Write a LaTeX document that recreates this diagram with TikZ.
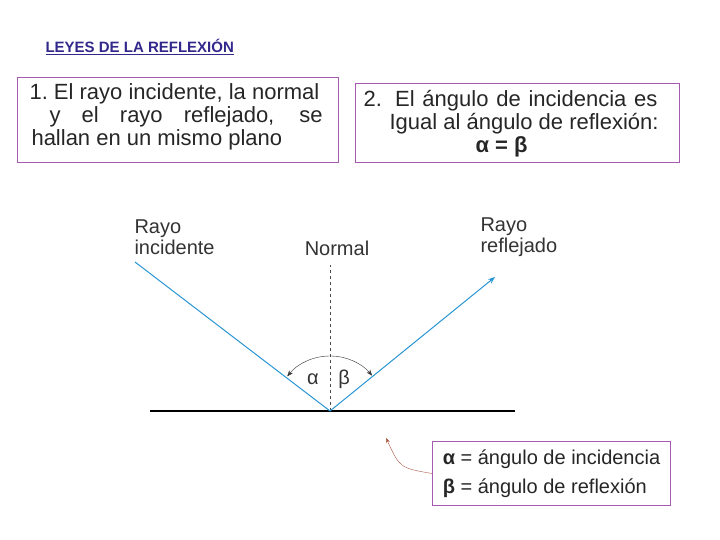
\documentclass[tikz,border=0pt]{standalone}
\usepackage{fontspec}
\setmainfont{Liberation Sans}
\usetikzlibrary{arrows.meta}
\definecolor{boxc}{RGB}{165,90,175}
\definecolor{titc}{RGB}{50,40,140}
\definecolor{rayc}{RGB}{40,150,210}
\definecolor{arrc}{RGB}{170,90,70}
\tikzset{lbox/.style={draw=boxc,line width=1pt,inner sep=5pt,text=black!85},
 btxt/.style={font=\fontsize{22}{23}\selectfont,text=black!85,align=left,anchor=north west},
 ray/.style={draw=rayc,line width=1pt},
 lab/.style={font=\fontsize{20}{21}\selectfont,text=black!80,align=left}}
\begin{document}
\begin{tikzpicture}[x=1pt,y=1pt]
\useasboundingbox (0,0) rectangle (720,540);
\node[anchor=west,text=titc,font=\fontsize{15}{16}\selectfont\bfseries] (title) at (42,493) {\underline{LEYES DE LA REFLEXIÓN}};
\node[lbox,draw=none,minimum width=320pt,minimum height=84pt,anchor=north west] (b1f) at (17,462) {};
\draw[boxc,line width=1pt] (b1f.north west) rectangle (b1f.south east);
\node[btxt] (b1) at (26,460)
 {1.\ El rayo incidente, la normal\\
 \hspace*{20pt}\makebox[273pt][s]{y el rayo reflejado, se}\\
 \hspace*{2pt}hallan en un mismo plano};
\node[lbox,draw=none,minimum width=323pt,minimum height=78pt,anchor=north west] (b2f) at (355,456) {};
\draw[boxc,line width=1pt] (b2f.north west) rectangle (b2f.south east);
\node[btxt] (b2) at (360,453)
 {\makebox[294pt][s]{2. El ángulo de incidencia es}\\
 \hspace*{26pt}Igual al ángulo de reflexión:\\
 \hspace*{112pt}\textbf{α = β}};
\coordinate (P) at (330,129);
\coordinate (S1) at (150,129); \coordinate (S2) at (515,129);
\coordinate (I) at (135,278); \coordinate (R) at (495,263); \coordinate (N) at (330,275);
\draw[line width=1.5pt] (S1) -- (S2);
\draw[dashed,black!70] (P) -- (N);
\draw[ray] (I) -- (P);
\draw[ray,-{Stealth[length=7pt]}] (P) -- (R);
\draw[-{Stealth[length=6pt]},black!80] ([shift={(90:55)}]P) arc (90:141:55);
\draw[-{Stealth[length=6pt]},black!80] ([shift={(90:55)}]P) arc (90:40:55);
\node[lab,anchor=west] (li) at (131,303) {Rayo\\incidente};
\node[lab] (ln) at (337,292) {Normal};
\node[lab,anchor=west] (lr) at (477,303) {Rayo\\reflejado};
\node[lab] (la) at (313,161) {α};
\node[lab] (lb) at (344,161) {β};
\node[lbox,anchor=north west,minimum width=238pt,minimum height=64pt,align=left,font=\fontsize{20}{21}\selectfont] (b3) at (432,99)
 {\textbf{α} = ángulo de incidencia\\[8pt]\textbf{β} = ángulo de reflexión};
\coordinate (ae) at (386,102);
\draw[arrc,-{Stealth[length=5pt]}] (b3.west) .. controls (400,72) .. (ae);
\end{tikzpicture}
\end{document}
